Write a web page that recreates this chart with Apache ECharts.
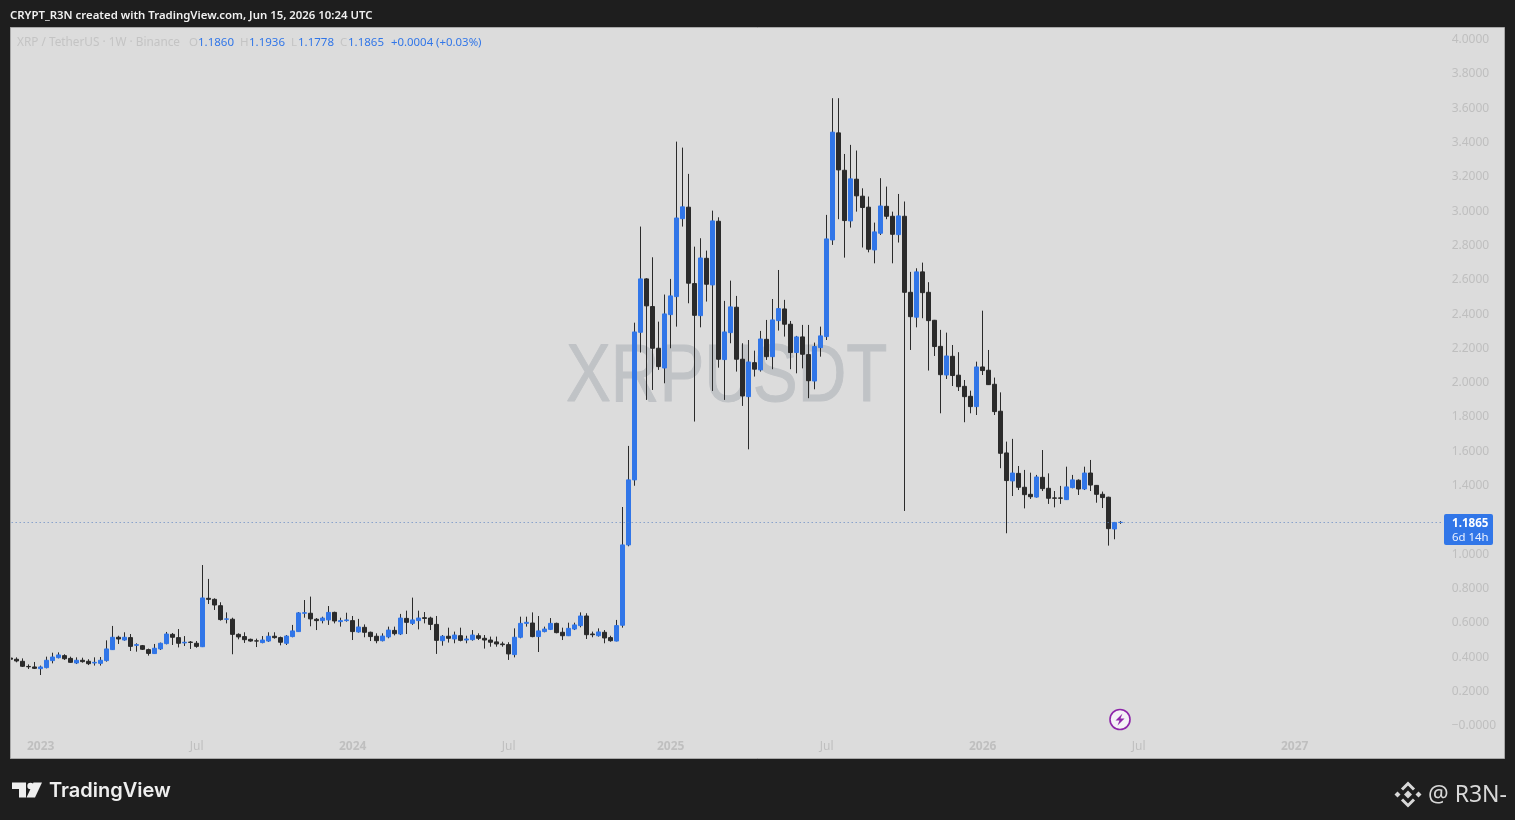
<!DOCTYPE html>
<html><head><meta charset="utf-8">
<style>html,body{margin:0;padding:0;background:#1e1e1e}#c{width:1515px;height:820px}</style>
<script src="https://cdn.jsdelivr.net/npm/echarts@6/dist/echarts.min.js"></script>
</head><body><div id="c"></div>
<script>
const open_ = [
.396,.389,.377,.347,.344,.334,.340,.381,.398,.410,
.394,.367,.383,.377,.367,.365,.381,.445,.517,.501,
.515,.470,.468,.445,.422,.449,.480,.534,.515,.484,
.489,.482,.462,.744,.738,.701,.622,.622,.534,.521,
.505,.496,.486,.495,.523,.515,.482,.521,.550,.657,
.657,.622,.614,.618,.662,.608,.614,.614,.548,.575,
.546,.523,.497,.519,.557,.536,.627,.598,.614,.631,
.629,.592,.497,.523,.507,.526,.501,.503,.526,.511,
.501,.490,.478,.474,.416,.517,.598,.600,.521,.550,
.563,.598,.546,.526,.565,.585,.641,.536,.526,.546,
.515,.495,.587,1.055,1.434,2.294,2.605,2.444,2.201,2.086,
2.397,2.502,2.956,3.023,2.578,2.391,2.725,2.570,2.941,2.135,
2.292,2.440,2.137,1.919,2.117,2.075,2.253,2.152,2.362,2.430,
2.341,2.176,2.267,2.164,2.010,2.205,2.269,2.832,3.456,3.238,
2.943,3.186,3.087,3.023,2.774,2.871,3.028,2.970,2.863,2.970,
2.527,2.382,2.646,2.527,2.364,2.212,2.045,2.154,2.044,1.979,
1.921,1.861,2.092,2.073,1.991,1.834,1.591,1.428,1.472,1.391,
1.350,1.334,1.449,1.385,1.329,1.329,1.319,1.389,1.432,1.381,
1.474,1.402,1.350,1.333,1.148,1.1860];
const close_ = [
.389,.379,.348,.345,.336,.344,.383,.402,.414,.392,
.371,.383,.375,.363,.371,.383,.449,.517,.507,.517,
.464,.474,.447,.423,.453,.482,.536,.517,.482,.488,
.487,.464,.746,.738,.705,.620,.624,.534,.519,.503,
.495,.495,.501,.523,.515,.488,.524,.554,.659,.660,
.624,.614,.629,.662,.612,.614,.618,.550,.577,.546,
.521,.497,.524,.559,.538,.629,.604,.618,.629,.627,
.592,.499,.523,.511,.530,.499,.507,.530,.511,.501,
.488,.478,.474,.420,.517,.598,.604,.521,.554,.565,
.598,.544,.526,.569,.589,.641,.532,.532,.548,.513,
.497,.585,1.055,1.434,2.296,2.605,2.448,2.201,2.094,2.401,
2.506,2.960,3.025,2.580,2.393,2.727,2.574,2.943,2.137,2.296,
2.442,2.137,1.923,2.121,2.079,2.255,2.152,2.366,2.432,2.341,
2.176,2.267,2.166,2.012,2.211,2.273,2.838,3.460,3.240,2.945,
3.188,3.089,3.021,2.778,2.879,3.030,2.970,2.865,2.972,2.527,
2.385,2.646,2.525,2.362,2.211,2.047,2.156,2.042,1.977,1.919,
1.861,2.092,2.071,1.989,1.832,1.589,1.430,1.474,1.391,1.348,
1.336,1.451,1.383,1.327,1.327,1.327,1.393,1.434,1.381,1.474,
1.404,1.350,1.331,1.150,1.186,1.1865];
const high_ = [
.400,.400,.394,.359,.373,.352,.404,.427,.429,.418,
.404,.400,.398,.389,.400,.402,.499,.583,.526,.546,
.536,.482,.472,.451,.478,.486,.548,.542,.565,.524,
.495,.495,.938,.857,.744,.721,.662,.631,.540,.546,
.509,.509,.524,.546,.546,.521,.530,.589,.664,.734,
.754,.629,.637,.699,.666,.631,.660,.641,.624,.592,
.550,.540,.540,.579,.579,.653,.672,.748,.672,.664,
.637,.641,.530,.573,.550,.573,.526,.559,.540,.530,
.521,.521,.491,.488,.569,.637,.637,.662,.641,.579,
.629,.602,.573,.602,.602,.662,.657,.550,.569,.559,
.526,.618,1.276,1.632,2.350,2.910,2.609,2.731,2.356,2.514,
2.605,3.405,3.370,3.217,2.793,2.842,2.770,3.003,2.964,2.477,
2.595,2.506,2.230,2.249,2.187,2.302,2.366,2.488,2.657,2.483,
2.360,2.273,2.337,2.337,2.234,2.327,2.978,3.658,3.658,3.333,
3.386,3.353,3.133,3.085,2.933,3.192,3.143,2.997,3.100,3.056,
2.646,2.667,2.700,2.586,2.366,2.308,2.292,2.220,2.178,2.016,
1.954,2.123,2.420,2.191,2.030,1.944,1.657,1.673,1.515,1.492,
1.476,1.463,1.608,1.472,1.369,1.399,1.511,1.463,1.437,1.511,
1.550,1.404,1.366,1.336,1.189,1.1936];
const low_ = [
.385,.371,.344,.332,.332,.297,.336,.365,.394,.385,
.369,.361,.369,.355,.352,.352,.375,.443,.478,.497,
.437,.433,.443,.410,.420,.443,.476,.472,.458,.466,
.449,.456,.460,.711,.676,.614,.598,.418,.505,.484,
.491,.460,.482,.490,.509,.470,.472,.517,.548,.631,
.581,.559,.598,.589,.598,.579,.608,.501,.544,.517,
.495,.482,.493,.511,.528,.530,.536,.589,.563,.598,
.559,.420,.468,.486,.482,.493,.482,.497,.501,.451,
.462,.462,.462,.385,.400,.511,.579,.517,.431,.546,
.559,.540,.501,.524,.559,.575,.507,.517,.521,.482,
.491,.493,.573,1.047,1.400,2.176,1.900,1.958,2.075,1.997,
2.201,2.327,2.910,2.463,1.774,2.323,2.473,1.952,2.088,1.900,
2.230,2.065,1.865,1.612,2.036,2.065,2.133,2.079,2.304,2.269,
2.079,2.055,2.084,1.910,1.962,2.152,2.249,2.803,2.953,2.729,
2.904,2.997,2.788,2.760,2.696,2.861,2.953,2.696,2.817,1.253,
2.191,2.323,2.376,2.071,2.156,1.822,2.022,1.981,1.952,1.770,
1.822,1.812,2.045,1.987,1.812,1.502,1.123,1.340,1.375,1.268,
1.323,1.331,1.369,1.294,1.274,1.294,1.317,1.385,1.346,1.375,
1.369,1.301,1.270,1.051,1.088,1.1778];
const tickIndex = [5,31,57,83,110,136,162,188,214];
const tickText = ['2023','Jul','2024','Jul','2025','Jul','2026','Jul','2027'];
const lastPrice = 1.1865;
const slots = 239;

const categories = [];
for (let i = 0, t = Date.UTC(2022,10,28); i < slots; i++, t += 7*864e5) categories.push(new Date(t).toISOString().slice(0,10));

const BLUE='#3176e8', DARK='#2b2b2b', MUTED='#bfbfbf', UI='"Noto Sans","Open Sans",sans-serif';
const chart = echarts.init(document.getElementById('c'), null, {renderer:'canvas'});
const wickData = open_.map((o,i)=>[o,close_[i],low_[i],high_[i]]);
const bodyData = open_.map((o,i)=>{const c=close_[i];return [o,c,Math.min(o,c),Math.max(o,c)];});
const txt=(x,y,text,fill,font,extra)=>Object.assign({type:'text',x,y,z:50,silent:true,style:{text,fill,font,textVerticalAlign:'middle'}},extra||{});

chart.setOption({
  animation:false,
  backgroundColor:'#1e1e1e',
  grid:{left:7.67,right:73.33,top:39.5,height:686.5,containLabel:false},
  tooltip:{show:false},
  xAxis:{type:'category',data:categories,boundaryGap:true,
    axisLine:{show:false},axisTick:{show:false},splitLine:{show:false},
    axisLabel:{margin:15,hideOverlap:false,color:MUTED,fontSize:12,fontFamily:UI,
      interval:(i)=>tickIndex.includes(i),
      formatter:(v,i)=>{const k=tickIndex.indexOf(i);if(k<0)return '';const s=tickText[k];return s==='Jul'?s:'{b|'+s+'}';},
      rich:{b:{fontWeight:'bold',color:MUTED,fontSize:12,fontFamily:UI}}}},
  yAxis:{type:'value',position:'right',min:0,max:4,interval:0.2,scale:false,
    axisLine:{show:false},axisTick:{show:false},splitLine:{show:false},
    axisLabel:{margin:10,padding:[4,0,0,0],color:MUTED,fontSize:12,fontFamily:UI,
      formatter:(v)=>v===0?'\u22120.0000':v.toFixed(4)}},
  series:[
    {type:'candlestick',name:'wicks',barWidth:1,z:3,clip:true,data:wickData,
      itemStyle:{color:DARK,color0:DARK,borderColor:DARK,borderColor0:DARK,borderWidth:1}},
    {type:'candlestick',name:'XRPUSDT',barWidth:4,z:4,clip:true,data:bodyData,
      itemStyle:{color:BLUE,color0:DARK,borderColor:BLUE,borderColor0:DARK,borderWidth:1},
      markLine:{silent:true,symbol:'none',label:{show:false},
        lineStyle:{color:'#5f86c4',type:[1,3],width:1},
        data:[{yAxis:lastPrice}]}}
  ],
  graphic:{elements:[
    {type:'rect',z:-10,silent:true,shape:{x:10.5,y:27.5,width:1494,height:731},style:{fill:'#dcdcdc',stroke:'#a8a8a8',lineWidth:1}},
    (()=>{const w=txt(566,378,'XRPUSDT','#c0c3c6','400 82px "Liberation Sans",sans-serif',{scaleX:.82});w.z=-5;w.style.stroke='#c0c3c6';w.style.lineWidth=1;return w;})(),
    {type:'rect',z:100,silent:true,shape:{x:0,y:28,width:10,height:730},style:{fill:'#1e1e1e'}},
    {type:'line',z:100,silent:true,shape:{x1:10.5,y1:27.5,x2:10.5,y2:758.5},style:{stroke:'#a8a8a8',lineWidth:1}},
    txt(10,16,'CRYPT_R3N created with TradingView.com, Jun 15, 2026 10:24 UTC','#f0f0f0','600 11.4px '+UI),
    txt(17,43,'XRP / TetherUS \u00b7 1W \u00b7 Binance','#c4c4c4','11.8px '+UI),
    txt(189,43,'O','#c4c4c4','11.5px '+UI),txt(198,43,'1.1860',BLUE,'11.5px '+UI),
    txt(240,43,'H','#c4c4c4','11.5px '+UI),txt(249,43,'1.1936',BLUE,'11.5px '+UI),
    txt(291,43,'L','#c4c4c4','11.5px '+UI),txt(298,43,'1.1778',BLUE,'11.5px '+UI),
    txt(340,43,'C','#c4c4c4','11.5px '+UI),txt(348,43,'1.1865',BLUE,'11.5px '+UI),
    txt(391,43,'+0.0004 (+0.03%)',BLUE,'11.4px '+UI),
    {type:'rect',z:60,silent:true,shape:{x:1444,y:514,width:49,height:31,r:2},style:{fill:BLUE}},
    txt(1452,524,'1.1865','#ffffff','700 11.6px '+UI,{z:61}),
    txt(1452,538,'6d 14h','#eaf1ff','11.4px '+UI,{z:61}),
    {type:'circle',z:60,silent:true,shape:{cx:1120,cy:719.5,r:10},style:{fill:'#f4f0f6',stroke:'#8e24aa',lineWidth:1.6}},
    {type:'polygon',z:61,silent:true,shape:{points:[[1122.5,713.5],[1115.5,720.5],[1119.5,720.5],[1117.5,725.5],[1124.5,718.5],[1120.5,718.5]]},style:{fill:'#8e24aa'}},
    {type:'polygon',z:50,silent:true,shape:{points:[[12,782.5],[26,782.5],[26,797.5],[19,797.5],[19,789],[12,789]]},style:{fill:'#efefef'}},
    {type:'circle',z:50,silent:true,shape:{cx:30.5,cy:786,r:3.2},style:{fill:'#efefef'}},
    {type:'polygon',z:50,silent:true,shape:{points:[[33.5,782.5],[42,782.5],[35,797.5],[26.5,797.5]]},style:{fill:'#efefef'}},
    txt(49,791,'TradingView','#efefef','600 20px Inter,sans-serif',{}),
    {type:'polygon',z:50,silent:true,shape:{points:[[1408,790.5],[1412,794.5],[1408,798.5],[1404,794.5]]},style:{fill:'#d8d8d8'}},
    {type:'polygon',z:50,silent:true,shape:{points:[[1397.5,791.5],[1400.5,794.5],[1397.5,797.5],[1394.5,794.5]]},style:{fill:'#d8d8d8'}},
    {type:'polygon',z:50,silent:true,shape:{points:[[1418.5,791.5],[1421.5,794.5],[1418.5,797.5],[1415.5,794.5]]},style:{fill:'#d8d8d8'}},
    {type:'polyline',z:50,silent:true,shape:{points:[[1402,789.5],[1408,783.5],[1414,789.5]]},style:{stroke:'#d8d8d8',lineWidth:3,fill:'none'}},
    {type:'polyline',z:50,silent:true,shape:{points:[[1402,799.5],[1408,805.5],[1414,799.5]]},style:{stroke:'#d8d8d8',lineWidth:3,fill:'none'}},
    txt(1428,795,'@ R3N-','#d8d8d8','400 23px '+UI,{})
  ]}
});
</script></body></html>
